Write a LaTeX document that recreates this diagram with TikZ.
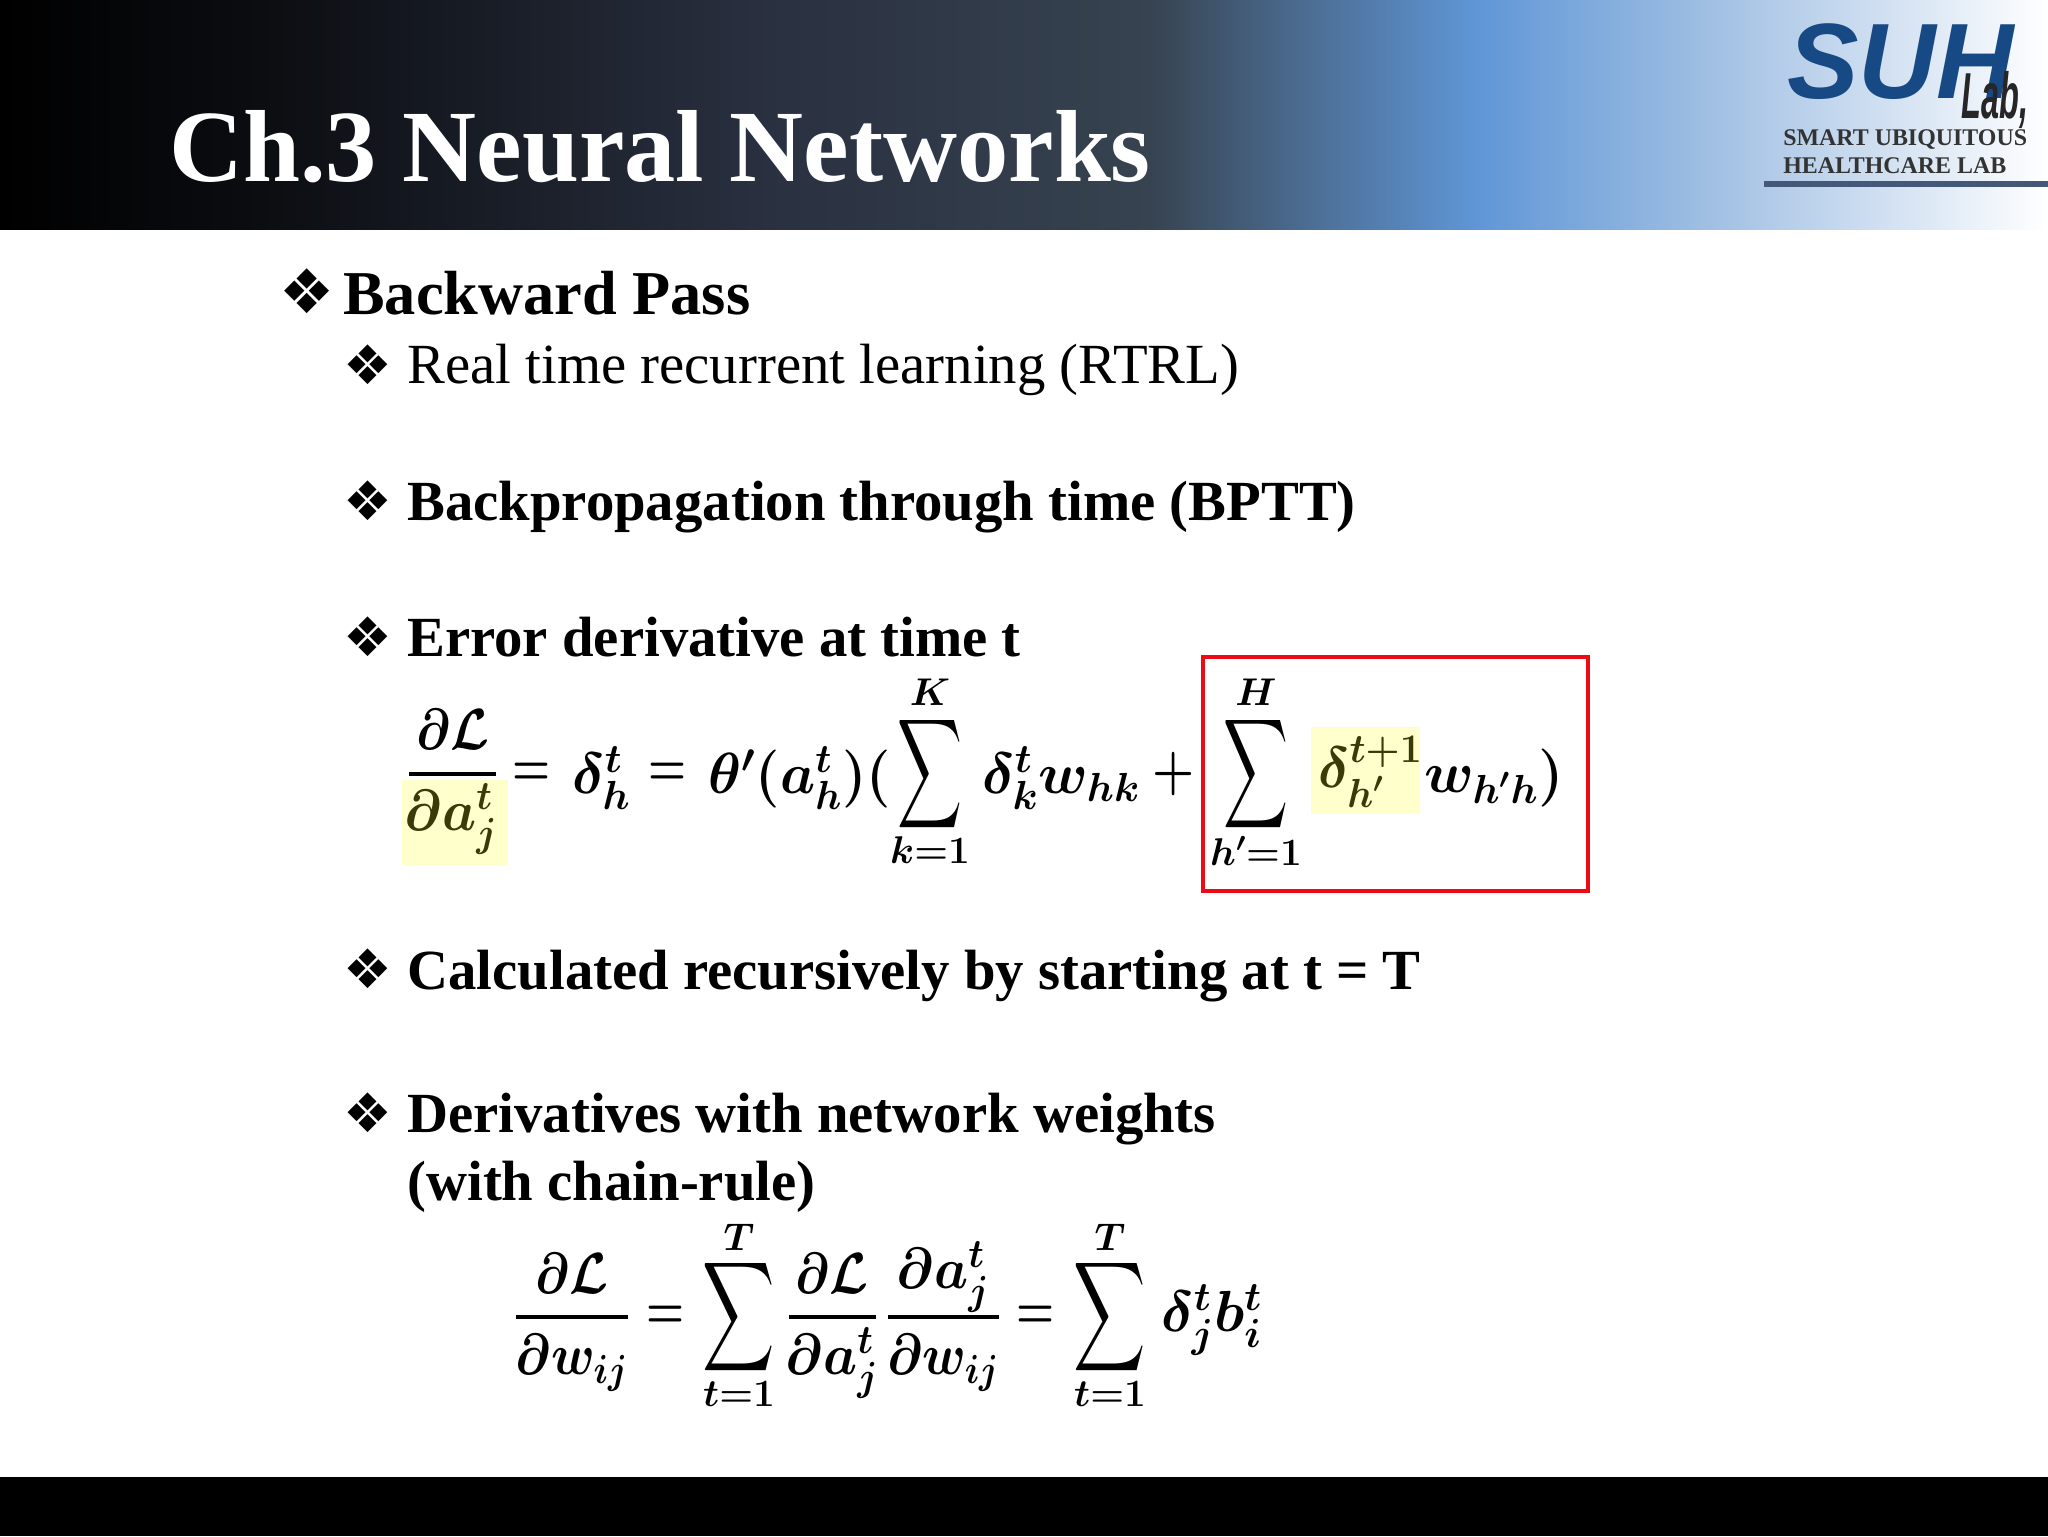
\documentclass[tikz,border=0pt]{standalone}
\usepackage{fix-cm}
\usepackage{amssymb}
\usepackage{amsmath}
\usepackage{bm}
\usepackage{fontspec}
\setmainfont{Liberation Serif}
\newfontfamily\bulletfont{DejaVu Sans}
\newfontfamily\logofont{Liberation Sans}
\definecolor{barA}{HTML}{0B0D11}
\definecolor{barB}{HTML}{2A3141}
\definecolor{barC}{HTML}{374350}
\definecolor{barD}{HTML}{4C6E94}
\definecolor{barE}{HTML}{5F96D6}
\definecolor{barF}{HTML}{9DBDE2}
\definecolor{logoblue}{HTML}{174A85}
\definecolor{logoline}{HTML}{44597A}
\definecolor{marker}{HTML}{FFFFCC}
\definecolor{markedtext}{HTML}{3A3A08}
\definecolor{boxred}{HTML}{EE0A14}
\newcommand\Sg[1]{\fontsize{#1}{#1}\selectfont}
\newcommand\SumSign[1]{\resizebox*{#1}{2.45cm}{$\displaystyle\sum$}}
\newcommand\Nar[2]{\scalebox{#1}[1]{$\bm{#2}$}}

\begin{document}
\begin{tikzpicture}[x=0.02cm,y=-0.02cm]
	\tikzset{
		headline/.style={anchor=base west,inner sep=0,font=\Sg{32.3}\bfseries},
		plainline/.style={anchor=base west,inner sep=0,font=\Sg{32.3}},
		mainmark/.style={inner sep=0,font=\bulletfont\Sg{35}},
		submark/.style={inner sep=0,font=\bulletfont\Sg{31}},
		mathpart/.style={inner sep=0,font=\Sg{33}},
		limit/.style={inner sep=0,font=\Sg{22}},
		sumsign/.style={inner sep=0},
		fracline/.style={line width=0.07cm},
		logotext/.style={anchor=base west,inner sep=0,font=\Sg{13.6}\bfseries,text=black!80}
	}
	\useasboundingbox (0,0) rectangle (2048,1536);
	\fill[white] (0,0) rectangle (2048,1536);

	% header bar
	\shade[left color=black,right color=barA] (0,0) rectangle (260,229);
	\shade[left color=barA,right color=barB] (260,0) rectangle (784,229);
	\shade[left color=barB,right color=barC] (784,0) rectangle (1150,229);
	\shade[left color=barC,right color=barD] (1150,0) rectangle (1310,229);
	\shade[left color=barD,right color=barE] (1310,0) rectangle (1476,229);
	\shade[left color=barE,right color=barF] (1476,0) rectangle (1698,229);
	\shade[left color=barF,right color=white] (1698,0) rectangle (2048,229);
	\fill[black] (0,1477) rectangle (2048,1536);

	\node[anchor=base west,inner sep=0,text=white,font=\Sg{58.3}\bfseries] (title) at (169,181) {Ch.3 Neural Networks};

	% logo
	\node[anchor=base west,inner sep=0,text=logoblue,font=\logofont\Sg{61}\bfseries\itshape] (suh) at (1787,98) {SUH};
	\node[anchor=base west,inner sep=0,text=black!85,font=\logofont\Sg{37}\bfseries\itshape] (lab) at (1961,118) {\scalebox{0.5}[1]{Lab,}};
	\node[logotext] (smart) at (1783,145) {SMART UBIQUITOUS};
	\node[logotext] (health) at (1783,173) {HEALTHCARE LAB};
	\fill[logoline] (1764,181) rectangle (2048,187);

	% bullets
	\node[mainmark] (m1) at (307,291) {❖};
	\node[headline,font=\Sg{35.5}\bfseries] (backward) at (343,314) {Backward Pass};
	\node[submark] (m2) at (368,365) {❖};
	\node[plainline] (rtrl) at (407,383) {Real time recurrent learning (RTRL)};
	\node[submark] (m3) at (368,501) {❖};
	\node[headline] (bptt) at (407,520) {Backpropagation through time (BPTT)};
	\node[submark] (m4) at (368,637) {❖};
	\node[headline] (error) at (407,656) {Error derivative at time t};
	\node[submark] (m5) at (368,969) {❖};
	\node[headline] (recursive) at (407,989) {Calculated recursively by starting at t = T};
	\node[submark] (m6) at (368,1113) {❖};
	\node[headline] (weights) at (407,1132) {Derivatives with network weights};
	\node[headline] (chain) at (407,1200) {(with chain-rule)};

	% error derivative
	\fill[marker] (402,780) rectangle (508,865);
	\fill[marker] (1311,727) rectangle (1420,814);
	\node[mathpart] (num) at (453,729) {\Nar{.85}{\partial\mathcal{L}}};
	\draw[fracline] (409,774) -- (496,774);
	\node[mathpart,text=markedtext] (den) at (451,819) {\Nar{.93}{\partial a_j^t}};
	\node[mathpart] (eqa) at (532,774) {\Nar{.75}{=}};
	\node[mathpart,anchor=west] (delta) at (572,778) {$\bm{\delta_h^t}$};
	\node[mathpart] (eqb) at (668,774) {\Nar{.75}{=}};
	\node[mathpart,anchor=west] (theta) at (708,778) {\Nar{.96}{\theta'(a_h^t)(}};
	\node[sumsign] (sumk) at (930,774) {\SumSign{1.3cm}};
	\node[limit] (topk) at (930,692) {$\bm{K}$};
	\node[limit] (lowk) at (930,850) {$\bm{k{=}1}$};
	\node[mathpart,anchor=west] (deltak) at (982,778) {$\bm{\delta_k^t w_{hk}}$};
	\node[mathpart] (plus) at (1174,774) {\Nar{.83}{+}};
	\node[sumsign] (sumh) at (1256,774) {\SumSign{1.3cm}};
	\node[limit] (toph) at (1256,692) {$\bm{H}$};
	\node[limit] (lowh) at (1256,851) {$\bm{h'{=}1}$};
	\node[mathpart,anchor=west,text=markedtext] (deltah) at (1318,772) {\Nar{.96}{\delta_{h'}^{t+1}}};
	\node[mathpart,anchor=west] (weight) at (1424,778) {$\bm{w_{h'h})}$};
	\draw[boxred,line width=0.08cm] (1203,657) rectangle (1588,891);

	% chain rule
	\node[mathpart] (numa) at (572,1273) {\Nar{.85}{\partial\mathcal{L}}};
	\draw[fracline] (516,1317) -- (628,1317);
	\node[mathpart] (dena) at (572,1363) {\Nar{.88}{\partial w_{ij}}};
	\node[mathpart] (eqc) at (666,1317) {\Nar{.75}{=}};
	\node[sumsign] (sumt) at (739,1317) {\SumSign{1.45cm}};
	\node[limit] (topt) at (739,1237) {$\bm{T}$};
	\node[limit] (lowt) at (739,1394) {$\bm{t{=}1}$};
	\node[mathpart] (numb) at (832,1273) {\Nar{.85}{\partial\mathcal{L}}};
	\draw[fracline] (789,1317) -- (876,1317);
	\node[mathpart] (denb) at (832,1363) {\Nar{.93}{\partial a_j^t}};
	\node[mathpart] (numc) at (943,1277) {\Nar{.93}{\partial a_j^t}};
	\draw[fracline] (888,1317) -- (999,1317);
	\node[mathpart] (denc) at (943,1363) {\Nar{.88}{\partial w_{ij}}};
	\node[mathpart] (eqd) at (1036,1317) {\Nar{.75}{=}};
	\node[sumsign] (sums) at (1110,1317) {\SumSign{1.45cm}};
	\node[limit] (tops) at (1110,1237) {$\bm{T}$};
	\node[limit] (lows) at (1110,1394) {$\bm{t{=}1}$};
	\node[mathpart,anchor=west] (last) at (1161,1320) {$\bm{\delta_j^t b_i^t}$};
\end{tikzpicture}
\end{document}
